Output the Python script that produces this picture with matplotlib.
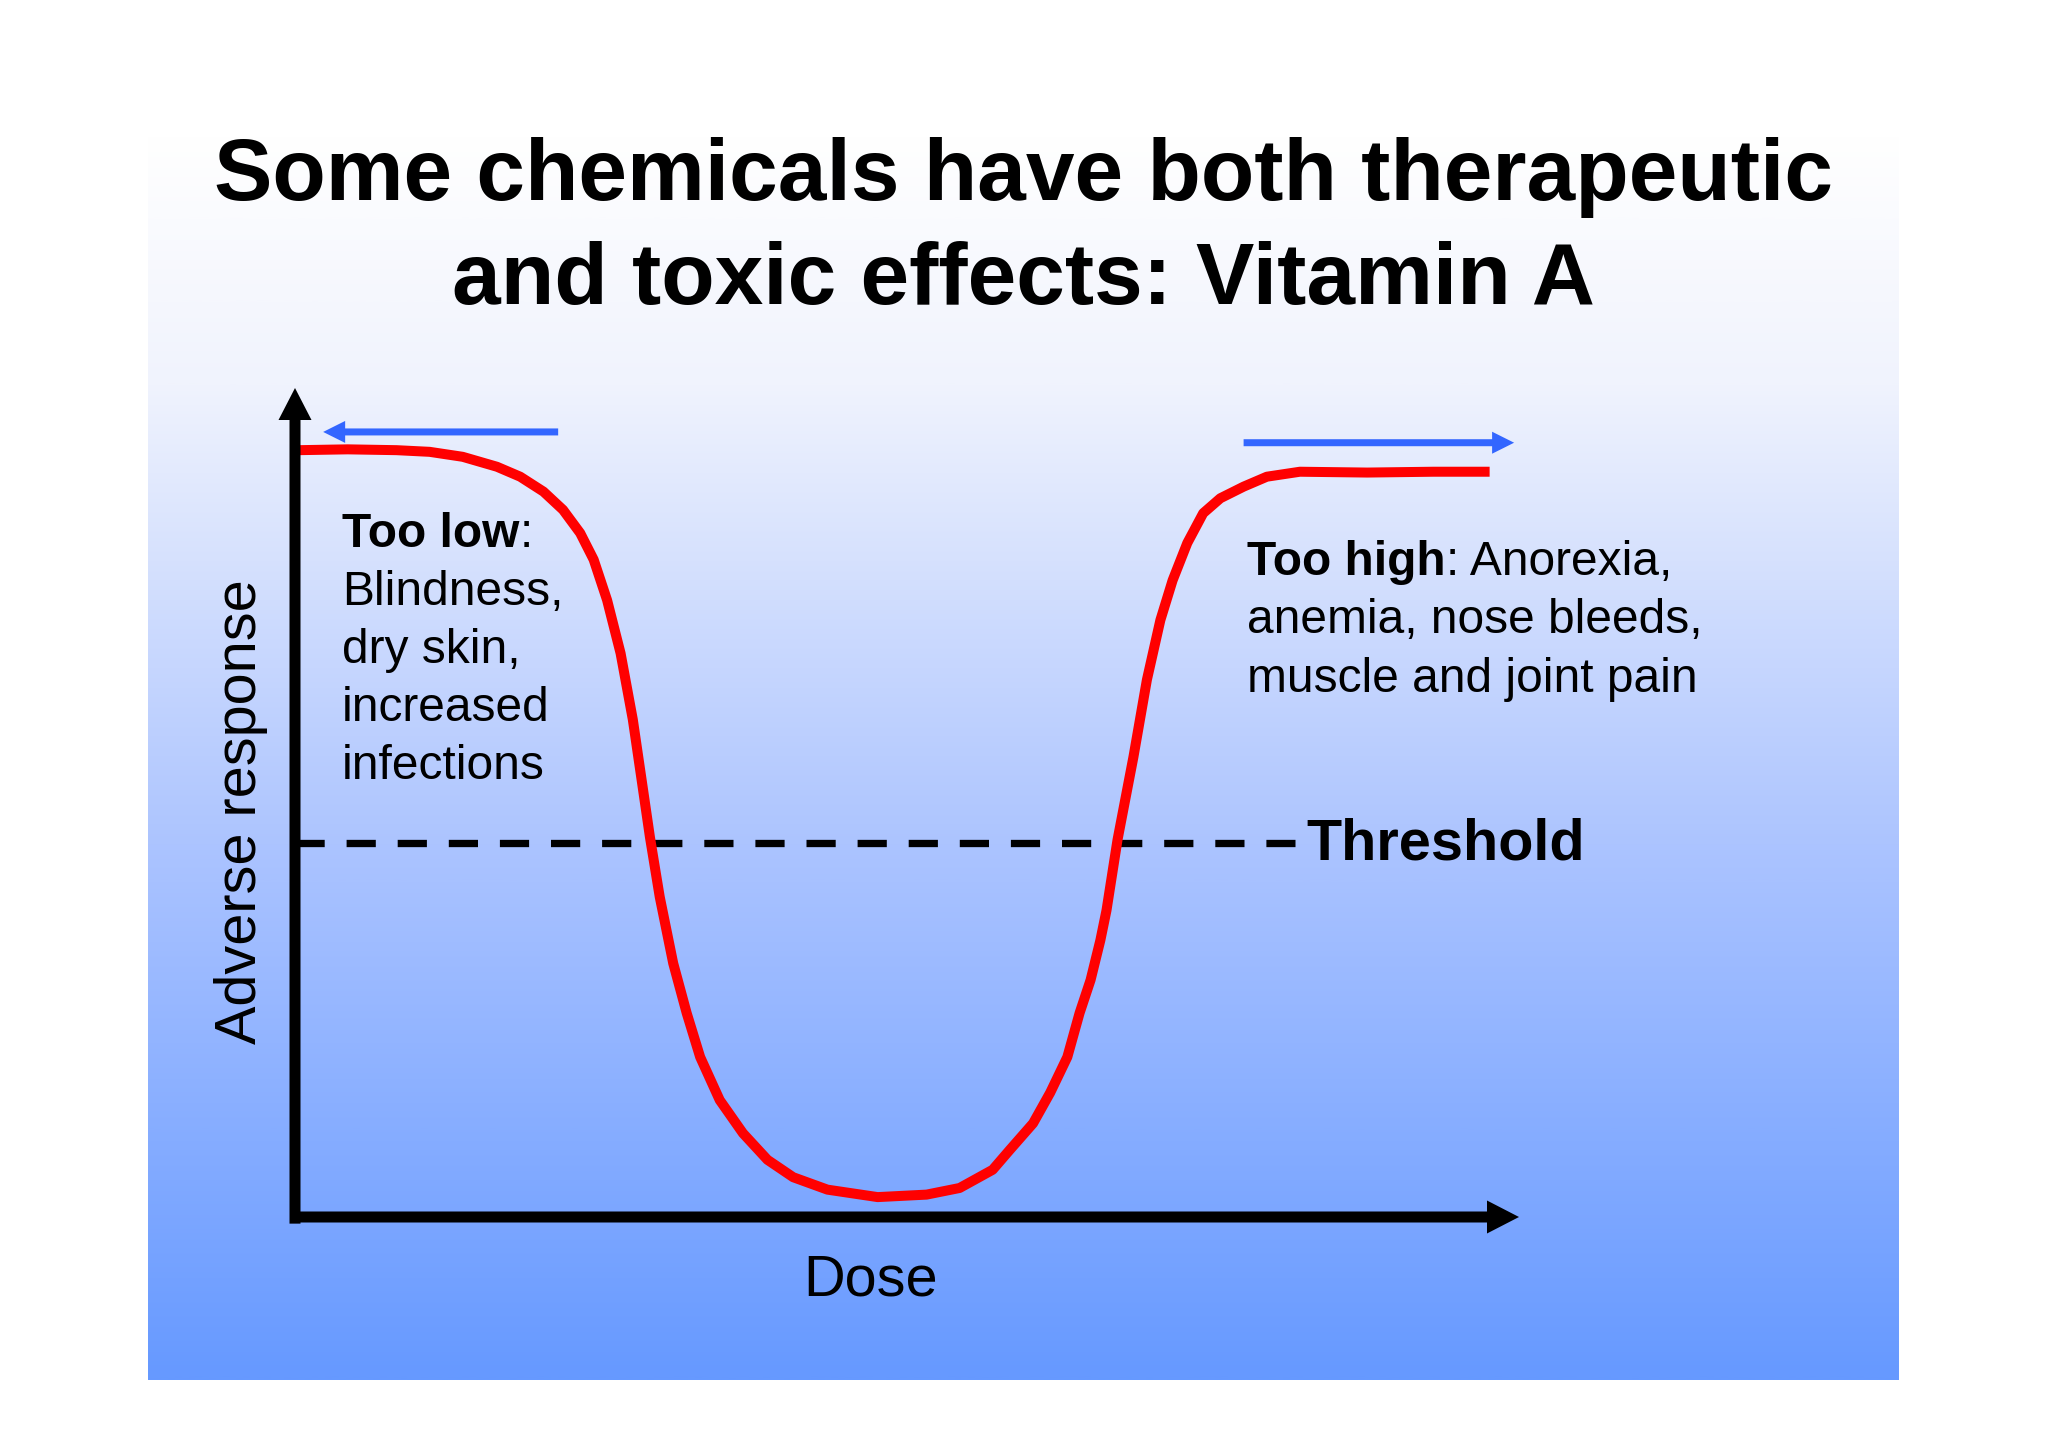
import numpy as np
import matplotlib
matplotlib.use("Agg")
import matplotlib.pyplot as plt
from matplotlib.colors import LinearSegmentedColormap

# ---------------- data ----------------
dose = [0.3, 4.3, 8.3, 11.0, 13.7, 16.5, 18.4, 20.3, 21.9, 23.3, 24.4, 25.5,
        26.6, 27.6, 28.4, 29.0, 29.8, 30.9, 32.0, 33.1, 34.7, 36.6, 38.6, 40.7,
        43.5, 47.6, 51.6, 54.3, 57.0, 58.4, 60.3, 61.7, 63.1, 64.1, 65.0, 65.8,
        66.3, 67.2, 68.5, 69.6, 70.7, 71.7, 72.9, 74.2, 75.6, 77.5, 79.4, 82.1,
        87.6, 93.0, 97.6]
response = [92.5, 92.6, 92.5, 92.3, 91.7, 90.5, 89.3, 87.5, 85.3, 82.5, 79.3, 74.4,
            68.0, 60.0, 51.9, 45.8, 38.6, 30.6, 24.6, 19.3, 14.1, 10.1, 6.9, 4.8,
            3.3, 2.4, 2.7, 3.5, 5.7, 8.1, 11.3, 15.0, 19.3, 24.6, 28.6, 33.4,
            37.0, 45.5, 55.5, 64.8, 72.0, 76.8, 81.3, 84.9, 86.7, 88.1, 89.3, 89.9,
            89.8, 89.9, 89.9]
threshold = 45.1
threshold_end = 81.7
low_arrow = (21.5, 2.3, 94.7)    # from dose, to dose, level
high_arrow = (77.5, 99.6, 93.4)

title_lines = ["Some chemicals have both therapeutic", "and toxic effects: Vitamin A"]
low_head, low_rest = "Too low", ":"
low_lines = ["Blindness,", "dry skin,", "increased", "infections"]
high_head, high_rest = "Too high", ": Anorexia,"
high_lines = ["anemia, nose bleeds,", "muscle and joint pain"]
threshold_label = "Threshold"
xlabel = "Dose"
ylabel = "Adverse response"

# ---------------- figure ----------------
W, H, DPI = 2048, 1448, 100
FONT = "Liberation Sans"
plt.rcParams["font.family"] = [FONT, "DejaVu Sans"]
fig = plt.figure(figsize=(W / DPI, H / DPI), dpi=DPI)
fig.patch.set_facecolor("white")

bg = fig.add_axes([0, 0, 1, 1])
bg.set_xlim(0, W)
bg.set_ylim(H, 0)
bg.axis("off")

# gradient panel
cmap = LinearSegmentedColormap.from_list(
    "panel",
    [(0.0, (1.0, 1.0, 1.0)),
     (0.2, (240 / 255, 243 / 255, 253 / 255)),
     (0.57, (172 / 255, 196 / 255, 255 / 255)),
     (1.0, (102 / 255, 153 / 255, 255 / 255))])
grad = np.linspace(0, 1, 512).reshape(-1, 1)
bg.imshow(grad, cmap=cmap, aspect="auto", extent=[148, 1899, 1380, 133],
          interpolation="bilinear", zorder=0)

# chart axes
L, R, B, T = 295, 1519, 1217, 388
ax = fig.add_axes([L / W, 1 - B / H, (R - L) / W, (B - T) / H])
ax.set_xlim(0, 100)
ax.set_ylim(0, 100)
ax.axis("off")
ax.patch.set_alpha(0)

PX = 72 / DPI  # points per pixel


def arrow(axis, tail, tip, color, shaft_px, head_len_px, head_half_px, coords="data"):
    axis.annotate("", xy=tip, xytext=tail, xycoords=coords, textcoords=coords,
                  arrowprops=dict(arrowstyle="-", lw=shaft_px * PX, color=color,
                                  shrinkA=0, shrinkB=head_len_px * PX * 0.6,
                                  capstyle="butt"), zorder=5)
    style = f"-|>,head_length={head_len_px * PX:.2f},head_width={head_half_px * PX:.2f}"
    axis.annotate("", xy=tip, xytext=tail, xycoords=coords, textcoords=coords,
                  arrowprops=dict(arrowstyle=style, lw=0, color=color,
                                  shrinkA=0, shrinkB=0, mutation_scale=1), zorder=5)


# axes arrows
arrow(ax, (0, -0.008), (0, 1.0), "black", 11, 32, 16.5, coords="axes fraction")
arrow(ax, (-0.004, 0), (1.0, 0), "black", 11, 32, 16.5, coords="axes fraction")

# threshold
ax.plot([0, threshold_end], [threshold, threshold], color="black", lw=7.3 * PX,
        ls=(0, (4, 3)), zorder=3)

# response curve
ax.plot(dose, response, color="#ff0000", lw=10 * PX, solid_joinstyle="round",
        solid_capstyle="butt", zorder=4)

# blue arrows
blue = "#3366ff"
arrow(ax, (low_arrow[0], low_arrow[2]), (low_arrow[1], low_arrow[2]), blue, 7, 22, 11)
arrow(ax, (high_arrow[0], high_arrow[2]), (high_arrow[1], high_arrow[2]), blue, 7, 22, 11)

# ---------------- text ----------------
for line, yb in zip(title_lines, [200, 304]):
    bg.text(1024, yb, line, ha="center", va="baseline", fontsize=63,
            fontweight="bold", color="black")

BODY = 34.5
t = bg.text(342, 547, low_head, ha="left", va="baseline", fontsize=BODY,
            fontweight="bold")
bg.annotate(low_rest, xy=(1, 0), xycoords=t, ha="left", va="bottom", fontsize=BODY)
for i, line in enumerate(low_lines):
    bg.text(342, 605 + 58 * i, line, ha="left", va="baseline", fontsize=BODY)

t2 = bg.text(1247, 575, high_head, ha="left", va="baseline", fontsize=BODY,
             fontweight="bold")
bg.annotate(high_rest, xy=(1, 0), xycoords=t2, ha="left", va="bottom", fontsize=BODY)
for i, line in enumerate(high_lines):
    bg.text(1247, 633 + 59 * i, line, ha="left", va="baseline", fontsize=BODY)

bg.text(1306, 860, threshold_label, ha="left", va="baseline", fontsize=41.5,
        fontweight="bold")
bg.text(871, 1296, xlabel, ha="center", va="baseline", fontsize=41.5)
bg.text(256, 812, ylabel, ha="center", va="baseline", fontsize=41.5, rotation=90,
        rotation_mode="anchor")

fig.savefig("out.png", dpi=DPI, facecolor="white")
